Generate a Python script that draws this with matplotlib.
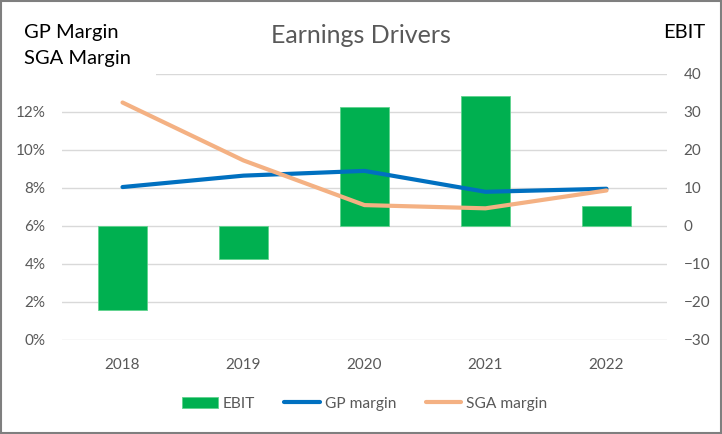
import matplotlib
matplotlib.use("Agg")
import matplotlib.pyplot as plt
from matplotlib.patches import Rectangle
from matplotlib.ticker import PercentFormatter

years = ["2018", "2019", "2020", "2021", "2022"]
ebit = [-22.2, -8.6, 31.4, 34.1, 5.3]
gp_margin = [8.05, 8.65, 8.9, 7.8, 7.96]
sga_margin = [12.5, 9.45, 7.1, 6.93, 7.87]

GREEN = "#00B050"
BLUE = "#0070C0"
ORANGE = "#F4B183"
TXT = "#595959"
GRID = "#D9D9D9"

plt.rcParams["font.family"] = ["Lato", "DejaVu Sans"]

fig = plt.figure(figsize=(7.22, 4.34), dpi=100)
ax_bar = fig.add_axes([0.0859, 0.2166, 0.8379, 0.6129])
ax_line = ax_bar.twinx()

x = list(range(len(years)))

# bars on the EBIT axis (right side)
ax_bar.bar(x, ebit, width=0.405, color=GREEN, edgecolor="#5FD38D", linewidth=0.6,
           label="EBIT", zorder=2)
ax_bar.set_ylim(-30, 40)
ax_bar.set_yticks(range(-30, 41, 10))
ax_bar.yaxis.tick_right()
ax_bar.grid(axis="y", color=GRID, linewidth=1.0, zorder=0)
ax_bar.set_axisbelow(True)

# margin lines on the percent axis (left side)
ax_line.plot(x, gp_margin, color=BLUE, linewidth=3.0, label="GP margin",
             solid_capstyle="round")
ax_line.plot(x, sga_margin, color=ORANGE, linewidth=3.0, label="SGA margin",
             solid_capstyle="round")
ax_line.set_ylim(0, 14)
ax_line.set_yticks(range(0, 15, 2))
ax_line.yaxis.set_major_formatter(PercentFormatter(decimals=0))
ax_line.yaxis.tick_left()

ax_bar.set_xlim(-0.5, len(years) - 0.5)
ax_bar.set_xticks(x)
ax_bar.set_xticklabels(years)

for a in (ax_bar, ax_line):
    for s in a.spines.values():
        s.set_visible(False)
    a.tick_params(length=0, colors=TXT, labelsize=11)
ax_bar.tick_params(axis="x", pad=13)
ax_bar.tick_params(axis="y", pad=12)
ax_line.tick_params(axis="y", pad=12)

# white patch in the upper left hides the top of the percent axis, as in the original
fig.patches.append(Rectangle((0.01, 0.818), 0.206, 0.08, transform=fig.transFigure,
                             facecolor="white", edgecolor="none", zorder=2))

fig.text(0.5, 0.918, "Earnings Drivers", ha="center", va="center", fontsize=18, color=TXT)
fig.text(0.033, 0.926, "GP Margin", ha="left", va="center", fontsize=14.5, color="black")
fig.text(0.033, 0.866, "SGA Margin", ha="left", va="center", fontsize=14.5, color="black")
fig.text(0.918, 0.926, "EBIT", ha="left", va="center", fontsize=14.5, color="black")

h1, l1 = ax_bar.get_legend_handles_labels()
h2, l2 = ax_line.get_legend_handles_labels()
fig.legend(h1 + h2, l1 + l2, loc="center", bbox_to_anchor=(0.505, 0.07), ncol=3,
           frameon=False, fontsize=11.2, labelcolor=TXT, handlelength=2.3,
           handletextpad=0.3, columnspacing=1.9)

fig.patches.append(Rectangle((0.002, 0.003), 0.996, 0.994, transform=fig.transFigure,
                             fill=False, edgecolor="#7F7F7F", linewidth=1.5, zorder=5))

fig.savefig("out.png", dpi=100)
